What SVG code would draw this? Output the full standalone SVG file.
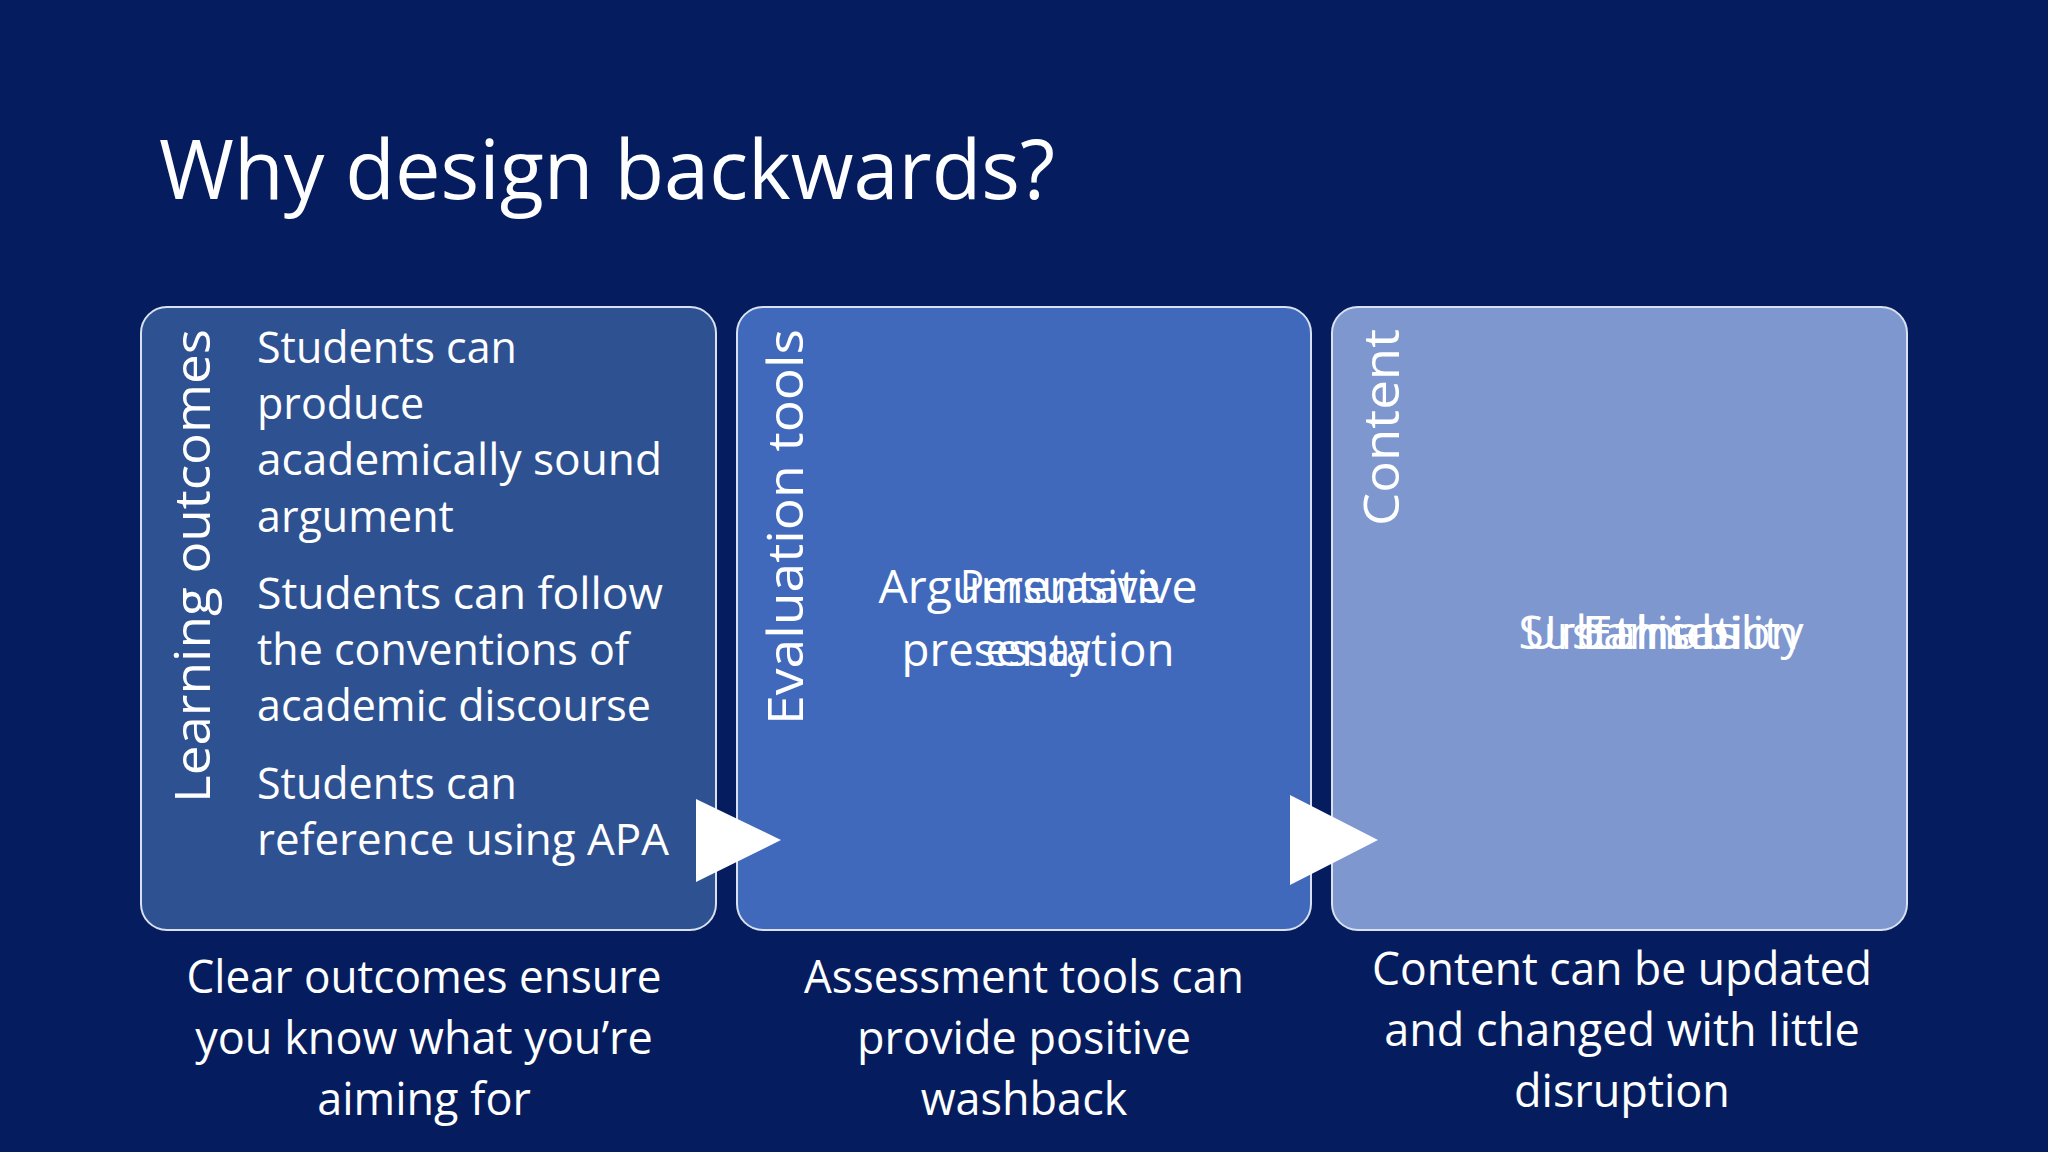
<svg xmlns="http://www.w3.org/2000/svg" width="2048" height="1152" viewBox="0 0 2048 1152">
<style>
text{font-family:"Open Sans","Noto Sans",sans-serif;fill:#fff}
.box{stroke:#d9e0f0;stroke-width:2}
.b{font-size:43px}
.c{font-size:45px;text-anchor:middle}
.v{font-size:50px}
.arr{fill:#fff}
</style>
<rect width="2048" height="1152" fill="#051d5e"/>
<text x="159" y="199" font-size="82" textLength="896" lengthAdjust="spacingAndGlyphs">Why design backwards?</text>
<g id="node-learning">
<rect class="box" x="141" y="307" width="575" height="623" rx="26" fill="#2e5192"/>
<text class="v" transform="translate(210,803) rotate(-90)" textLength="474" lengthAdjust="spacingAndGlyphs">Learning outcomes</text>
<text class="b" x="257" y="363">Students can</text>
<text class="b" x="257" y="419">produce</text>
<text class="b" x="257" y="475" textLength="405" lengthAdjust="spacingAndGlyphs">academically sound</text>
<text class="b" x="257" y="532">argument</text>
<text class="b" x="257" y="609" textLength="406" lengthAdjust="spacingAndGlyphs">Students can follow</text>
<text class="b" x="257" y="665">the conventions of</text>
<text class="b" x="257" y="721">academic discourse</text>
<text class="b" x="257" y="799">Students can</text>
<text class="b" x="257" y="855" textLength="412" lengthAdjust="spacingAndGlyphs">reference using APA</text>
</g>
<g id="node-evaluation">
<rect class="box" x="737" y="307" width="574" height="623" rx="26" fill="#4169bb"/>
<text class="v" transform="translate(803,725) rotate(-90)" textLength="396" lengthAdjust="spacingAndGlyphs">Evaluation tools</text>
<text class="c" x="1038" y="603" textLength="319" lengthAdjust="spacingAndGlyphs">Argumentative</text>
<text class="c" x="1038" y="666" textLength="105" lengthAdjust="spacingAndGlyphs">essay</text>
<text class="c" x="1060" y="603" textLength="200" lengthAdjust="spacingAndGlyphs">Persuasive</text>
<text class="c" x="1038" y="666" textLength="273" lengthAdjust="spacingAndGlyphs">presentation</text>
</g>
<g id="node-content">
<rect class="box" x="1332" y="307" width="575" height="623" rx="26" fill="#7e97cf"/>
<text class="v" transform="translate(1399,526) rotate(-90)" textLength="197" lengthAdjust="spacingAndGlyphs">Content</text>
<text class="c" x="1661" y="649" textLength="285" lengthAdjust="spacingAndGlyphs">Sustainability</text>
<text class="c" x="1661" y="649" textLength="275" lengthAdjust="spacingAndGlyphs">Urbanisation</text>
<text class="c" x="1661" y="649" textLength="160" lengthAdjust="spacingAndGlyphs">Ethics</text>
</g>
<g id="connectors">
<polygon class="arr" points="696,799 781,840 696,882"/>
<polygon class="arr" points="1290,795 1378,840 1290,885"/>
</g>
<g id="captions">
<text class="c" x="424" y="993" textLength="475" lengthAdjust="spacingAndGlyphs">Clear outcomes ensure</text>
<text class="c" x="424" y="1054">you know what you’re</text>
<text class="c" x="424" y="1115">aiming for</text>
<text class="c" x="1024" y="993" textLength="440" lengthAdjust="spacingAndGlyphs">Assessment tools can</text>
<text class="c" x="1024" y="1054">provide positive</text>
<text class="c" x="1024" y="1115">washback</text>
<text class="c" x="1622" y="985" textLength="500" lengthAdjust="spacingAndGlyphs">Content can be updated</text>
<text class="c" x="1622" y="1046">and changed with little</text>
<text class="c" x="1622" y="1107">disruption</text>
</g>
</svg>
